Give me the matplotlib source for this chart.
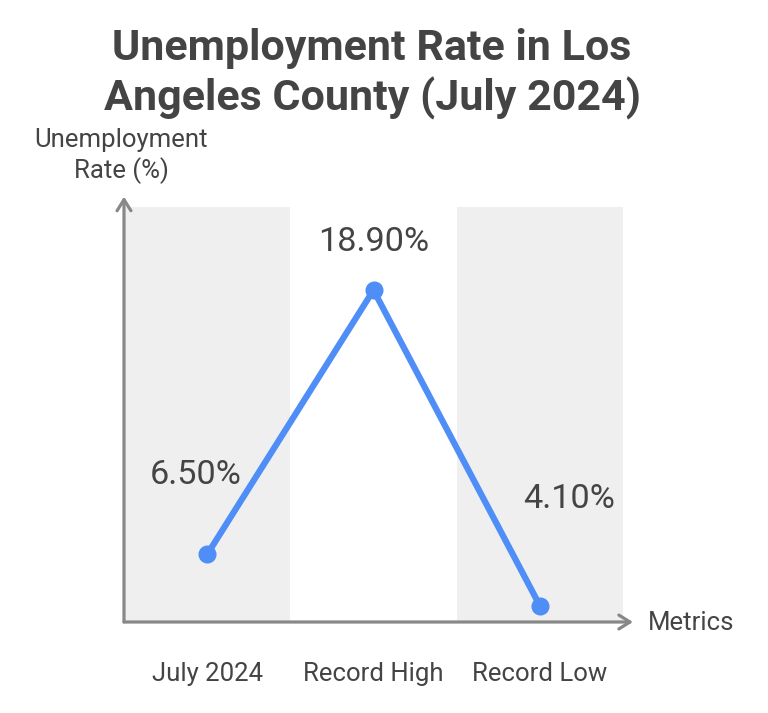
import matplotlib
matplotlib.use("Agg")
import matplotlib.pyplot as plt

# chart data
categories = ["July 2024", "Record High", "Record Low"]
rates = [6.5, 18.9, 4.1]
rate_labels = ["6.50%", "18.90%", "4.10%"]

TEXT = "#444444"
AXIS = "#888888"
LINE = "#4f8ef7"
BAND = "#efefef"

plt.rcParams['font.family'] = ['Roboto', 'DejaVu Sans']

fig = plt.figure(figsize=(7.68, 7.13), dpi=100)
W, H = 768, 713
ax = fig.add_axes([124 / W, 91 / H, (623 - 124) / W, (506 - 91) / H])

# alternating background bands
for i in range(len(categories)):
    if i % 2 == 0:
        ax.axvspan(i - 0.5, i + 0.5, color=BAND, lw=0, zorder=0)

x = list(range(len(categories)))
ax.plot(x, rates, color=LINE, lw=4.5, marker='o', markersize=12,
        solid_capstyle='round', zorder=3, clip_on=False)

# value labels
offsets = [(-8, 46), (0, 23), (21, 65)]
for xi, yi, lab, off in zip(x, rates, rate_labels, offsets):
    ax.annotate(lab, (xi, yi), xytext=off, textcoords='offset points',
                ha='center', va='bottom', fontsize=24.7, color=TEXT)

ax.set_xlim(-0.5, len(categories) - 0.5)
ax.set_ylim(3.33, 22.8)
ax.set_xticks(x)
ax.set_xticklabels(categories, fontsize=18.5, color=TEXT)
ax.tick_params(axis='x', length=0, pad=29)
ax.set_yticks([])
for side in ['top', 'right', 'left', 'bottom']:
    ax.spines[side].set_visible(False)

# axis arrows
arrow = dict(arrowstyle='->,head_length=0.8,head_width=0.5', color=AXIS, lw=2.3,
             shrinkA=0, shrinkB=0)
ax.annotate('', xy=(0, 1.025), xytext=(0, 0), xycoords='axes fraction',
            textcoords='axes fraction', arrowprops=arrow, annotation_clip=False)
ax.annotate('', xy=(1.02, 0), xytext=(0, 0), xycoords='axes fraction',
            textcoords='axes fraction', arrowprops=arrow, annotation_clip=False)

fig.text(648 / W, 1 - 623 / H, "Metrics", fontsize=18.5, color=TEXT,
         ha='left', va='center')
fig.text(121 / W, 1 - 156 / H, "Unemployment\nRate (%)", fontsize=18.5,
         color=TEXT, ha='center', va='center', linespacing=1.25)

fig.text(372 / W, 1 - 74 / H, "Unemployment Rate in Los\nAngeles County (July 2024)",
         fontsize=31, fontweight='bold', color=TEXT, ha='center', va='center',
         linespacing=1.25)

fig.savefig("out.png", dpi=100)
